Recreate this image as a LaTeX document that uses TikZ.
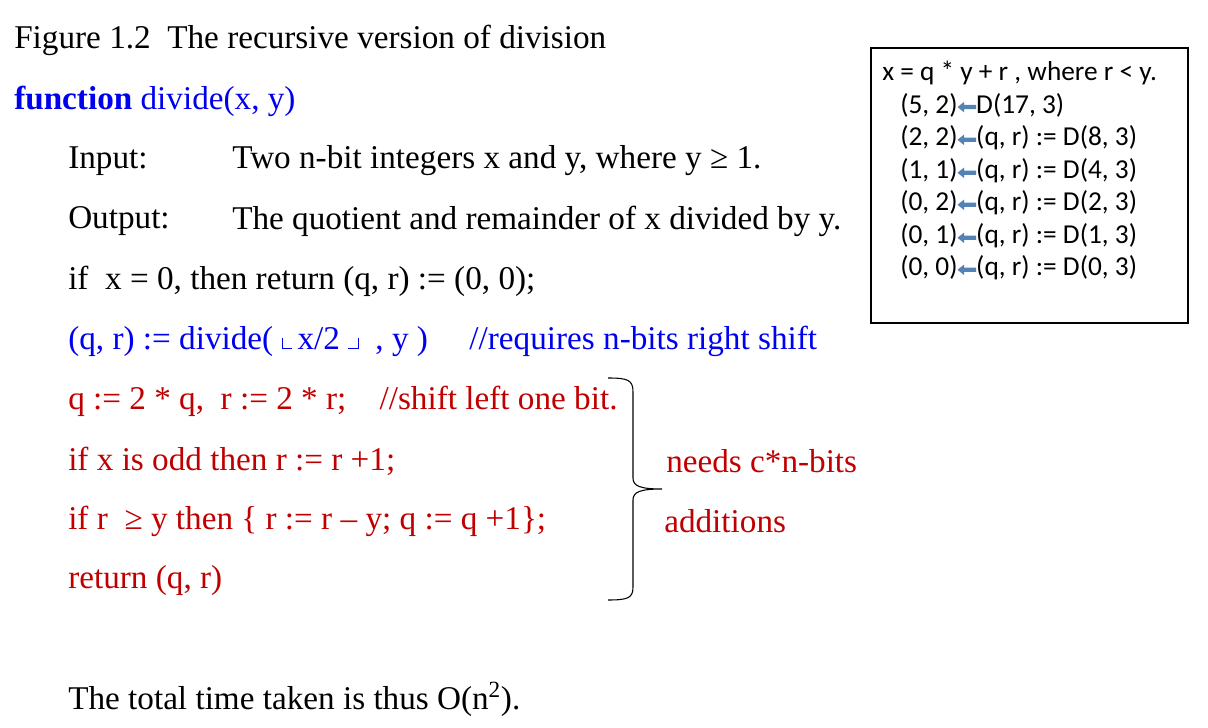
\documentclass[tikz,border=0pt]{standalone}
\usepackage{fontspec}
\setmainfont{Liberation Serif}
\newfontfamily\boxfont{Carlito}
\usetikzlibrary{arrows.meta}
\definecolor{codeblue}{RGB}{0,0,240}
\definecolor{codered}{RGB}{192,0,0}
\definecolor{arrblue}{RGB}{84,130,180}
\newcommand{\flL}{\rule{0.9pt}{8pt}\rule{7pt}{0.9pt}}
\newcommand{\flR}{\rule{7pt}{0.9pt}\rule{0.9pt}{8pt}}
\newcommand{\larr}{\tikz[baseline=-4.5pt]\fill[arrblue] (0,0)--(5pt,4pt)--(5pt,1.6pt)--(14pt,1.6pt)--(14pt,-1.6pt)--(5pt,-1.6pt)--(5pt,-4pt)--cycle;}
\begin{document}
\begin{tikzpicture}[x=0.75pt,y=-0.75pt,
  txt/.style={anchor=west,inner sep=0pt,font=\fontsize{24.9}{28}\selectfont},
  btx/.style={anchor=west,inner sep=0pt,font=\boxfont\fontsize{20.5}{23}\selectfont}]
\useasboundingbox (0,0) rectangle (1208,728);
\node[txt] (t0) at (14,40) {Figure 1.2\ \ The recursive version of division};
\node[txt,text=codeblue] (t1) at (14,101) {\textbf{function} divide(x, y)};
\node[txt] (t2) at (68,161) {Input:};
\node[txt] (t2b) at (232,161) {Two n-bit integers x and y, where y ≥ 1.};
\node[txt] (t3) at (68,221) {Output:};
\node[txt] (t3b) at (232,221) {The quotient and remainder of x divided by y.};
\node[txt] (t4) at (68,281) {if\ \ x = 0, then return (q, r) := (0, 0);};
\node[txt,text=codeblue] (t5) at (68,341) {(q, r) := divide( \flL\,x/2 \flR\ \ , y )\quad\ //requires n-bits right shift};
\node[txt,text=codered] (t6) at (68,401) {q := 2 * q,\ \ r := 2 * r;\quad //shift left one bit.};
\node[txt,text=codered] (t7) at (68,461) {if x is odd then r := r +1;};
\node[txt,text=codered] (t8) at (68,521) {if r\ \ ≥ y then \{ r := r – y; q := q +1\};};
\node[txt,text=codered] (t9) at (68,581) {return (q, r)};
\node[txt,text=codered] (n1) at (666,461) {needs c*n-bits};
\node[txt,text=codered] (n2) at (664,521) {additions};
\node[txt] (t10) at (68,699) {The total time taken is thus O(n\textsuperscript{2}).};
\draw[line width=0.8pt] (608,378) .. controls (628,378) and (633,380) .. (633,392) -- (633,478) .. controls (633,486) and (640,489) .. (662,489) .. controls (640,489) and (633,492) .. (633,500) -- (633,587) .. controls (633,598) and (628,600) .. (608,600);
\draw[line width=1.2pt] (871,48) rectangle (1188,323);
\node[btx] (b0) at (882,73) {x = q * y + r , where r < y.};
\node[btx] (b1) at (900,105) {(5, 2)\larr D(17, 3)};
\node[btx] (b2) at (900,138) {(2, 2)\larr(q, r) := D(8, 3)};
\node[btx] (b3) at (900,171) {(1, 1)\larr(q, r) := D(4, 3)};
\node[btx] (b4) at (900,203) {(0, 2)\larr(q, r) := D(2, 3)};
\node[btx] (b5) at (900,236) {(0, 1)\larr(q, r) := D(1, 3)};
\node[btx] (b6) at (900,268) {(0, 0)\larr(q, r) := D(0, 3)};
\end{tikzpicture}
\end{document}
